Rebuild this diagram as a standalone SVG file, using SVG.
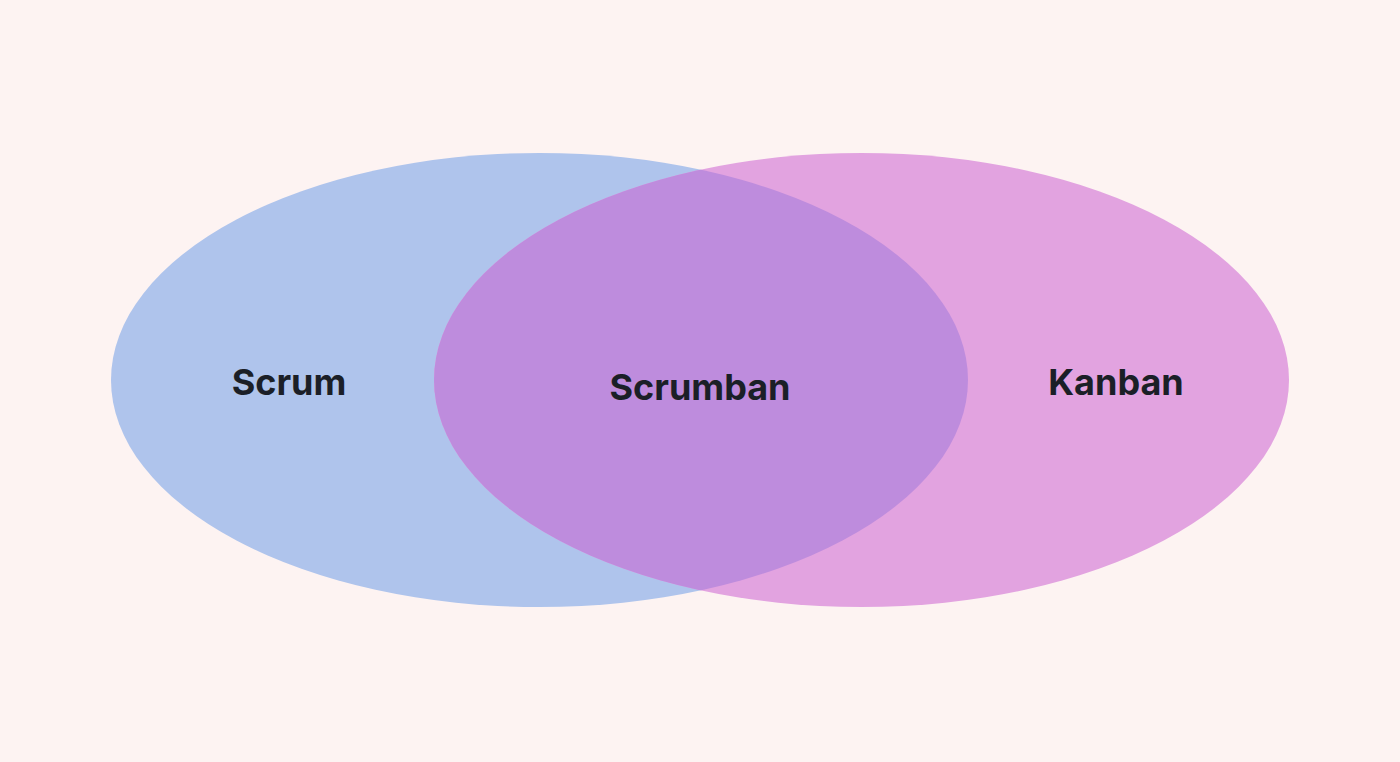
<svg xmlns="http://www.w3.org/2000/svg" width="1400" height="762" viewBox="0 0 1400 762">
<style>
.lbl{font-family:Inter,"Liberation Sans",sans-serif;font-weight:700;font-size:36px;fill:#1B1F27;text-anchor:middle}
</style>
<defs>
<clipPath id="pinkclip"><ellipse cx="861.5" cy="380" rx="427.5" ry="227"/></clipPath>
</defs>
<rect width="1400" height="762" fill="#FDF3F2"/>
<g id="scrum">
<ellipse cx="539.5" cy="380" rx="428.5" ry="227" fill="#AFC4EC"/>
<text class="lbl" x="289" y="395">Scrum</text>
</g>
<g id="kanban">
<ellipse cx="861.5" cy="380" rx="427.5" ry="227" fill="#E2A3E0"/>
<text class="lbl" x="1116" y="395">Kanban</text>
</g>
<g id="scrumban">
<ellipse cx="539.5" cy="380" rx="428.5" ry="227" fill="#BE8CDD" clip-path="url(#pinkclip)"/>
<text class="lbl" x="700" y="400">Scrumban</text>
</g>
<g id="connectors"/>
</svg>
